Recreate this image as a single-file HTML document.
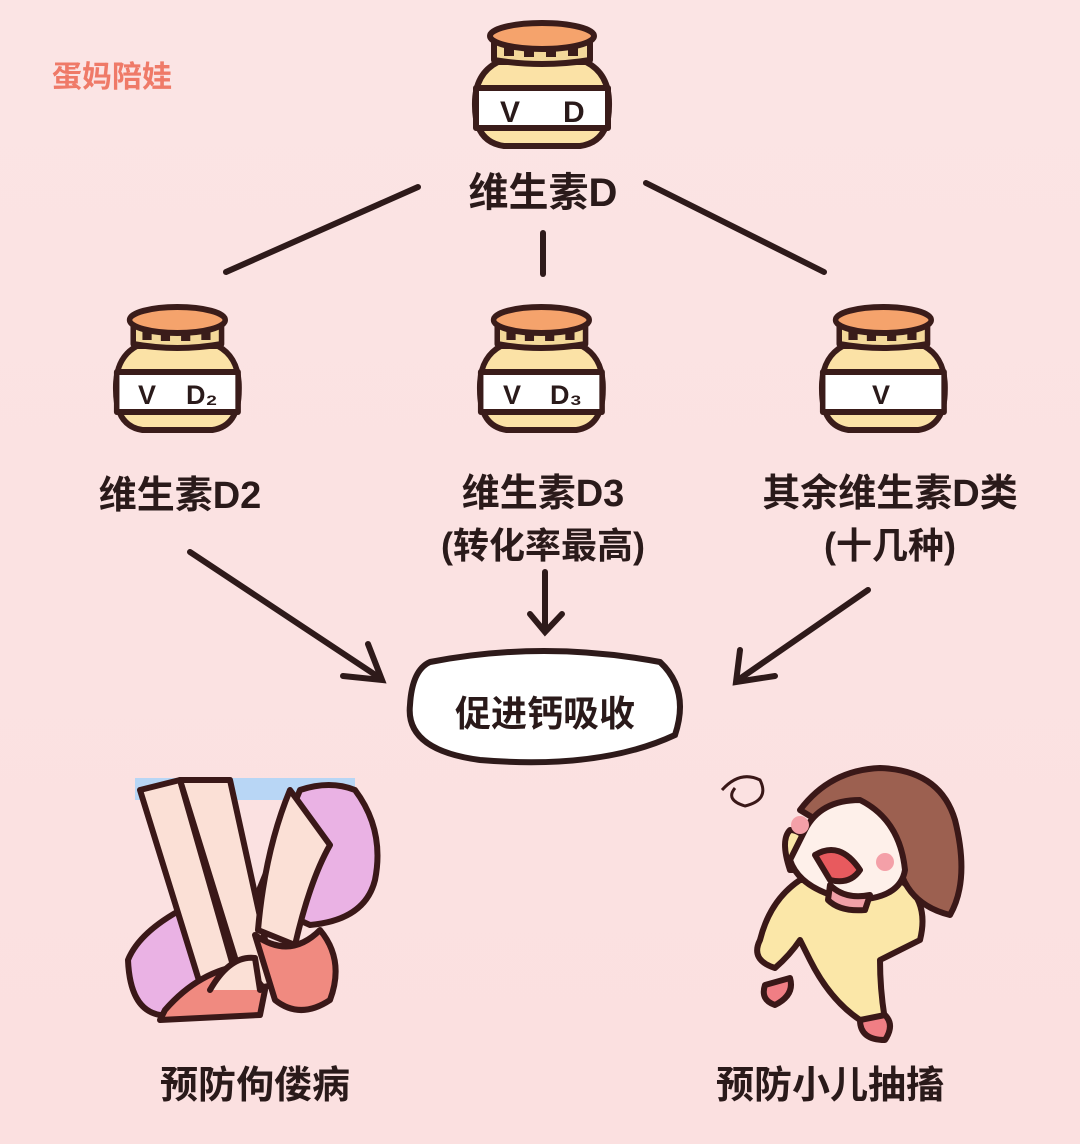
<!DOCTYPE html>
<html><head><meta charset="utf-8"><style>
html,body{margin:0;padding:0;background:#fbe3e3;}
svg{display:block}
text{font-family:"Liberation Sans","Noto Sans CJK SC",sans-serif;font-weight:bold;fill:#2a1a1a}
</style></head><body>
<svg width="1080" height="1144" viewBox="0 0 1080 1144" xmlns="http://www.w3.org/2000/svg">
<defs>
<linearGradient id="bg" x1="0" y1="0" x2="0" y2="1"><stop offset="0" stop-color="#fbe4e4"/><stop offset="1" stop-color="#fbe0e0"/></linearGradient>
<g id="jar" stroke="#3a1c1a" stroke-width="6" stroke-linejoin="round">
<path d="M26 48 Q2 60 3 92 Q3 128 32 132 L108 132 Q137 128 137 92 Q138 60 114 48 Z" fill="#fbe2a6"/>
<path d="M4 74 L136 74 L136 114 L4 114 Z" fill="#ffffff"/>
<path d="M22 24 L118 24 L118 46 Q70 54 22 46 Z" fill="#f3d89a"/>
<g stroke="none" fill="#3a1c1a"><rect x="32" y="34" width="10" height="8"/><rect x="52" y="35" width="10" height="8"/><rect x="74" y="35" width="10" height="8"/><rect x="96" y="34" width="10" height="8"/></g>
<ellipse cx="70" cy="22" rx="52" ry="13" fill="#f5a36c"/>
</g>
</defs>
<rect width="1080" height="1144" fill="url(#bg)"/>
<text x="52" y="87" font-size="30" style="fill:#ef7a68">蛋妈陪娃</text>

<use href="#jar" x="472" y="14"/>
<text x="500" y="122" font-size="30">V</text>
<text x="563" y="122" font-size="30">D</text>

<use href="#jar" transform="translate(113 298) scale(0.92 1)"/>
<text x="138" y="404" font-size="27">V</text><text x="186" y="404" font-size="27">D₂</text>
<use href="#jar" transform="translate(477 298) scale(0.92 1)"/>
<text x="503" y="404" font-size="27">V</text><text x="550" y="404" font-size="27">D₃</text>
<use href="#jar" transform="translate(819 298) scale(0.92 1)"/>
<text x="872" y="404" font-size="27">V</text>

<text x="543" y="206" font-size="40" text-anchor="middle">维生素D</text>
<text x="180" y="508" font-size="38" text-anchor="middle">维生素D2</text>
<text x="543" y="506" font-size="38" text-anchor="middle">维生素D3</text>
<text x="543" y="558" font-size="36" text-anchor="middle">(转化率最高)</text>
<text x="890" y="506" font-size="38" text-anchor="middle">其余维生素D类</text>
<text x="890" y="558" font-size="36" text-anchor="middle">(十几种)</text>

<g stroke="#2e1a1a" stroke-width="6" stroke-linecap="round" fill="none">
<line x1="226" y1="272" x2="418" y2="187"/>
<line x1="543" y1="233" x2="543" y2="274"/>
<line x1="646" y1="183" x2="824" y2="272"/>
<line x1="190" y1="552" x2="380" y2="678"/><polyline points="343,676 382,680 368,644"/>
<line x1="545" y1="572" x2="545" y2="630"/><polyline points="530,614 545,632 562,614"/>
<line x1="868" y1="590" x2="738" y2="680"/><polyline points="740,650 736,682 775,676"/>
</g>

<path d="M430 662 Q543 640 660 662 Q690 690 675 735 Q600 770 480 760 Q405 750 410 705 Q412 670 430 662 Z" fill="#fff" stroke="#2e1a1a" stroke-width="6"/>
<text x="545" y="726" font-size="36" text-anchor="middle">促进钙吸收</text>

<g stroke="#3a1818" stroke-width="6" stroke-linejoin="round" stroke-linecap="round">
<path d="M135 778 L355 778 L355 800 L135 800 Z" fill="#b8d6f5" stroke="none"/>
<path d="M300 790 Q330 780 355 790 Q385 830 375 880 Q365 920 310 925 L255 900 Z" fill="#eab2e4"/>
<path d="M190 905 Q140 930 128 960 Q130 1010 160 1015 L210 1015 L215 960 Z" fill="#eab2e4"/>
<path d="M140 790 L180 780 L240 990 L205 1000 Z" fill="#fbe0d6"/>
<path d="M180 780 L230 780 L275 985 L245 990 Z" fill="#fbe0d6"/>
<path d="M290 790 Q265 850 258 930 L295 945 Q310 880 330 845 Z" fill="#fbe0d6"/>
<path d="M255 935 Q290 960 320 930 Q345 960 330 1000 Q300 1020 275 1000 Z" fill="#f08a80"/>
<path d="M165 1010 Q200 970 245 965 L265 990 L260 1015 L160 1020 Z" fill="#f08a80"/>
<path d="M210 990 Q230 955 255 958 L260 990" fill="#fbe0d6"/>
</g>

<g stroke="#3a1818" stroke-width="6" stroke-linejoin="round" stroke-linecap="round">
<path d="M790 870 Q780 840 790 830 Q810 830 815 870 Z" fill="#fbe7a8"/>
<path d="M800 880 Q770 900 760 940 Q750 960 775 968 Q790 955 800 940 L810 960 Q830 1000 860 1020 L885 1020 Q880 990 880 960 Q900 950 920 940 Q930 900 900 880 Z" fill="#fbe7a8"/>
<path d="M765 985 Q760 1000 775 1005 Q795 995 790 978 Z" fill="#f07e84"/>
<path d="M860 1020 Q860 1040 885 1040 Q895 1025 885 1015 Z" fill="#f07e84"/>
<path d="M800 810 Q830 770 880 768 Q940 770 955 820 Q970 880 950 915 Q910 905 900 870 Z" fill="#9c6050"/>
<path d="M805 830 Q820 800 860 800 Q900 820 905 870 Q900 900 850 900 Q800 890 790 860 Z" fill="#fef0ea"/>
<path d="M815 855 Q840 840 860 870 Q850 885 830 880 Z" fill="#e85a5e"/>
<path d="M830 885 Q845 900 870 895 L865 910 Q840 912 828 900 Z" fill="#f0a0a8"/>
</g>
<circle cx="800" cy="825" r="9" fill="#f4a0a8"/><circle cx="885" cy="862" r="9" fill="#f4a0a8"/>
<path d="M722 790 Q740 770 760 780 Q770 800 745 806 Q725 800 735 788" fill="none" stroke="#3a1818" stroke-width="3"/>

<text x="255" y="1098" font-size="38" text-anchor="middle">预防佝偻病</text>
<text x="830" y="1098" font-size="38" text-anchor="middle">预防小儿抽搐</text>
</svg>
</body></html>
